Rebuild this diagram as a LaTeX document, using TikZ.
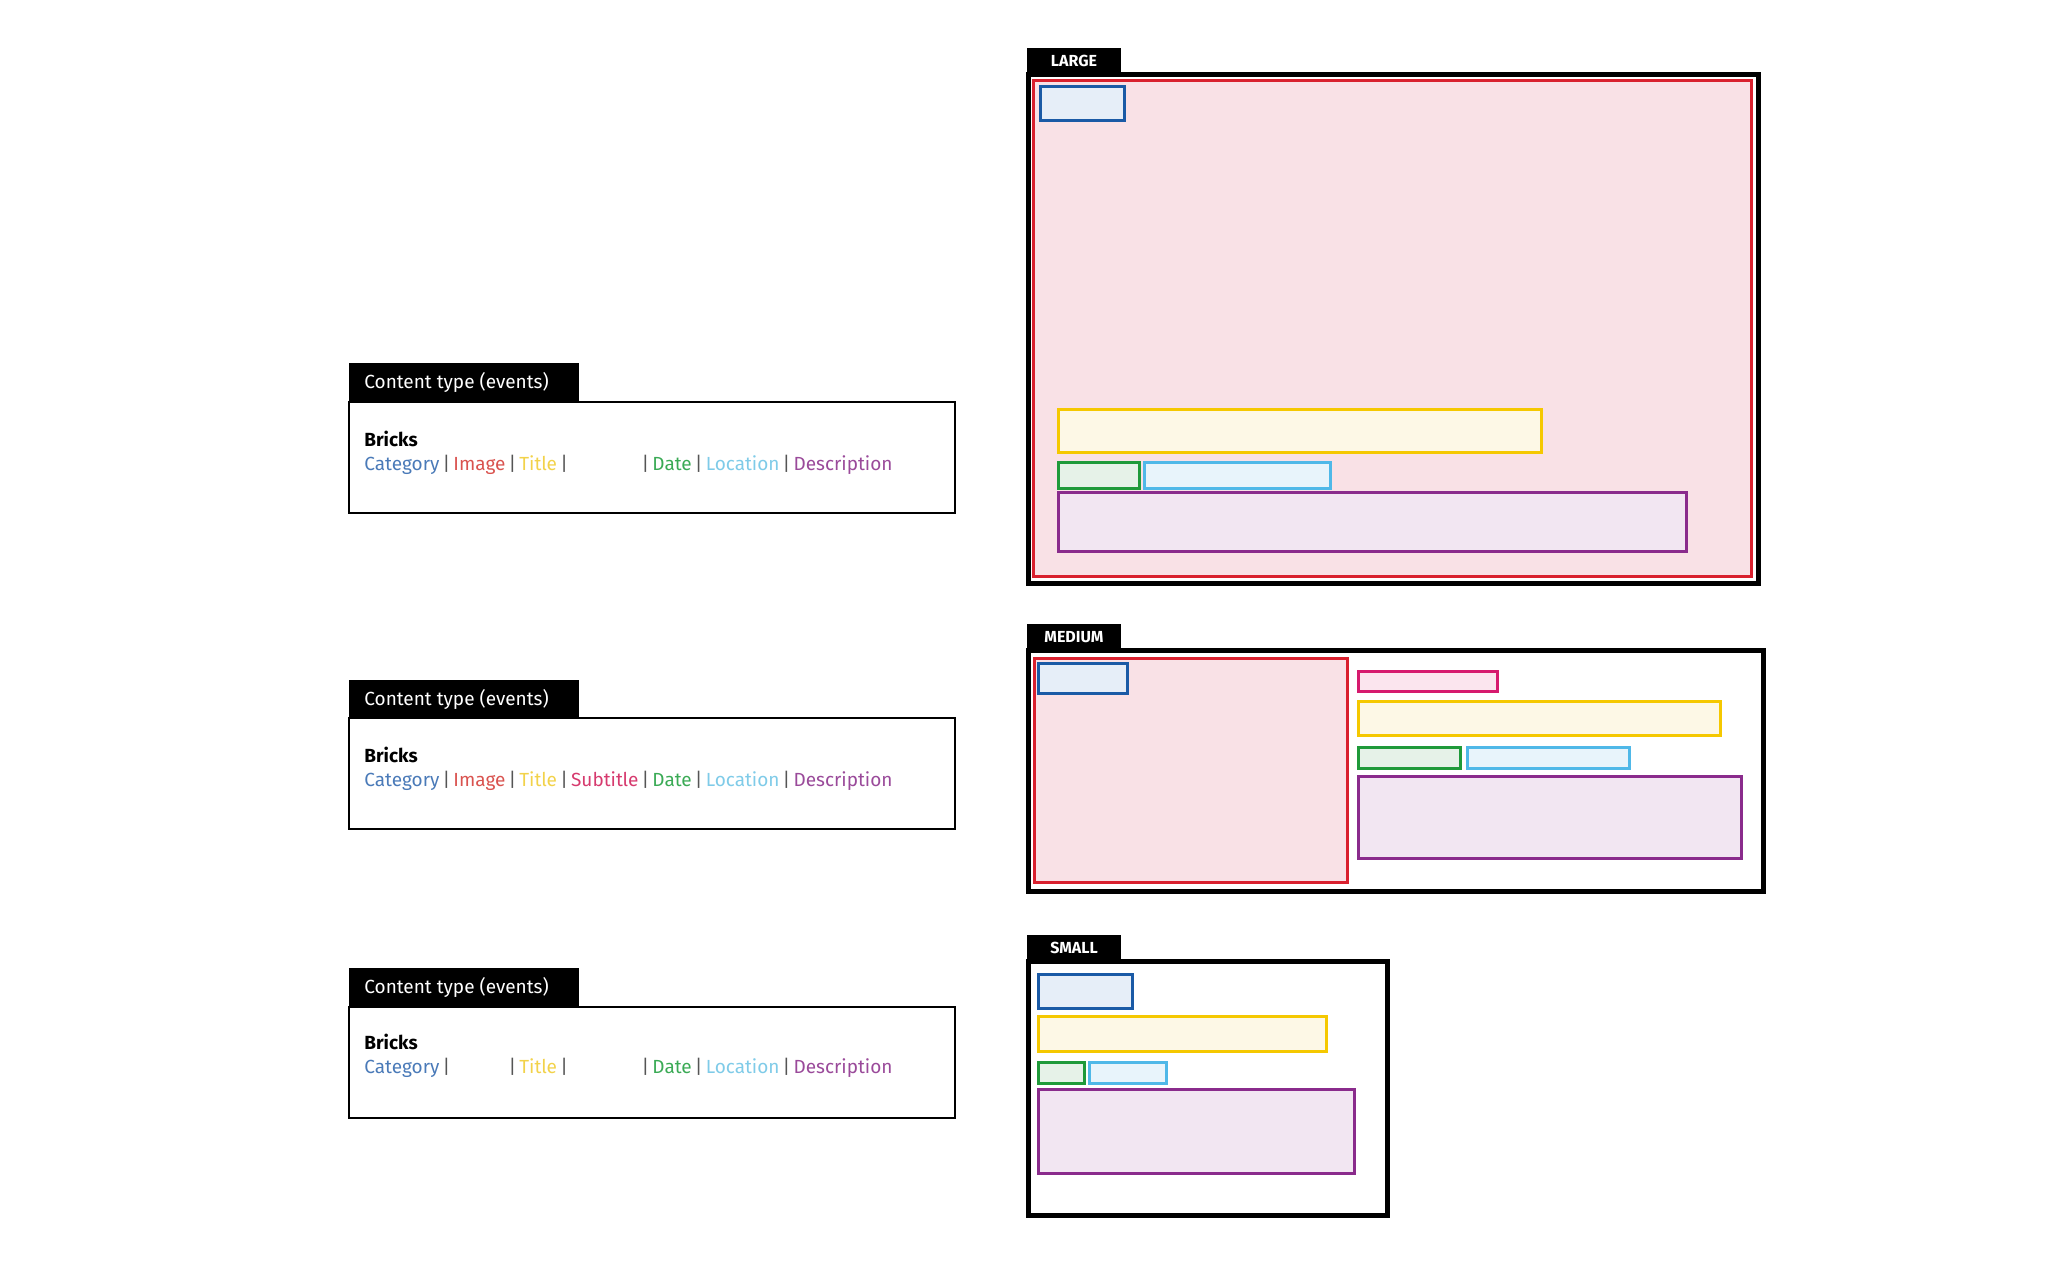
\documentclass[tikz,border=0pt]{standalone}
\usepackage{fontspec}
\setmainfont{Fira Sans}
\definecolor{cB}{HTML}{1A5AA6}\definecolor{fB}{HTML}{E6EEF8}
\definecolor{cR}{HTML}{D9202E}\definecolor{fR}{HTML}{F9E1E6}
\definecolor{cY}{HTML}{F5C800}\definecolor{fY}{HTML}{FDF8E6}
\definecolor{cG}{HTML}{1F9A3A}\definecolor{fG}{HTML}{E6F2E8}
\definecolor{cC}{HTML}{4FB8E8}\definecolor{fC}{HTML}{E8F4FB}
\definecolor{cP}{HTML}{8A2B8C}\definecolor{fP}{HTML}{F2E6F2}
\definecolor{cK}{HTML}{D61A6E}\definecolor{fK}{HTML}{FBE5EE}
\definecolor{tCat}{HTML}{4A7AB8}\definecolor{tImg}{HTML}{D9534F}
\definecolor{tTit}{HTML}{F2D24A}\definecolor{tSub}{HTML}{D63A6E}
\definecolor{tDat}{HTML}{3AAA55}\definecolor{tLoc}{HTML}{7FCBE8}
\definecolor{tDes}{HTML}{9A4A9A}\definecolor{bar}{HTML}{555555}
\newcommand{\sepb}{\textcolor{bar}{\,|\,}}
\begin{document}
\begin{tikzpicture}[x=0.5pt,y=-0.5pt,
  brick/.style={line width=1.5pt},
  outer/.style={draw=black,line width=2.5pt},
  leftbox/.style={draw=black,line width=1.2pt},
  tab/.style={fill=black},
  tabtxt/.style={text=white,font=\fontsize{9.5}{11}\selectfont,anchor=west,inner sep=0pt},
  panetxt/.style={text=white,font=\bfseries\fontsize{8}{10}\selectfont,inner sep=0pt},
  btxt/.style={anchor=west,inner sep=0pt,font=\fontsize{9.5}{11}\selectfont}]
\useasboundingbox (0,0) rectangle (2048,1280);
% left boxes
\foreach \t/\b/\r/\l/\k in {363/402/439/465/1,680/718/755/781/2,968/1007/1042/1068/3}{
  \fill[tab] (349,\t) rectangle (579,\b);
  \node[tabtxt] (tab\k) at (364,{(\t+\b)/2}) {Content type (events)};
  \draw[leftbox] (349,\b) rectangle (955,\b+111);
  \node[btxt] (br\k) at (364,\r) {\bfseries Bricks};
}
\node[btxt] (l1) at (364,465) {\textcolor{tCat}{Category}\sepb\textcolor{tImg}{Image}\sepb\textcolor{tTit}{Title}\sepb\phantom{Subtitle}\sepb\textcolor{tDat}{Date}\sepb\textcolor{tLoc}{Location}\sepb\textcolor{tDes}{Description}};
\node[btxt] (l2) at (364,781) {\textcolor{tCat}{Category}\sepb\textcolor{tImg}{Image}\sepb\textcolor{tTit}{Title}\sepb\textcolor{tSub}{Subtitle}\sepb\textcolor{tDat}{Date}\sepb\textcolor{tLoc}{Location}\sepb\textcolor{tDes}{Description}};
\node[btxt] (l3) at (364,1068) {\textcolor{tCat}{Category}\sepb\phantom{Image}\sepb\textcolor{tTit}{Title}\sepb\phantom{Subtitle}\sepb\textcolor{tDat}{Date}\sepb\textcolor{tLoc}{Location}\sepb\textcolor{tDes}{Description}};
% LARGE
\fill[tab] (1027,48) rectangle (1121,74);
\node[panetxt] (tl) at (1074,61) {LARGE};
\draw[outer] (1028,74) rectangle (1758,583);
\draw[brick,draw=cR,fill=fR] (1033,80) rectangle (1751,576);
\draw[brick,draw=cB,fill=fB] (1040,86) rectangle (1124,120);
\draw[brick,draw=cY,fill=fY] (1058,409) rectangle (1541,452);
\draw[brick,draw=cG,fill=fG] (1058,462) rectangle (1139,488);
\draw[brick,draw=cC,fill=fC] (1144,462) rectangle (1330,488);
\draw[brick,draw=cP,fill=fP] (1058,492) rectangle (1686,551);
% MEDIUM
\fill[tab] (1027,624) rectangle (1121,650);
\node[panetxt] (tm) at (1074,637) {MEDIUM};
\draw[outer] (1028,650) rectangle (1763,891);
\draw[brick,draw=cR,fill=fR] (1034,658) rectangle (1347,882);
\draw[brick,draw=cB,fill=fB] (1038,663) rectangle (1127,693);
\draw[brick,draw=cK,fill=fK] (1358,671) rectangle (1497,691);
\draw[brick,draw=cY,fill=fY] (1358,701) rectangle (1720,735);
\draw[brick,draw=cG,fill=fG] (1358,747) rectangle (1460,768);
\draw[brick,draw=cC,fill=fC] (1467,747) rectangle (1629,768);
\draw[brick,draw=cP,fill=fP] (1358,776) rectangle (1741,858);
% SMALL
\fill[tab] (1027,935) rectangle (1121,961);
\node[panetxt] (ts) at (1074,948) {SMALL};
\draw[outer] (1028,961) rectangle (1387,1215);
\draw[brick,draw=cB,fill=fB] (1038,974) rectangle (1132,1008);
\draw[brick,draw=cY,fill=fY] (1038,1016) rectangle (1326,1051);
\draw[brick,draw=cG,fill=fG] (1038,1062) rectangle (1084,1083);
\draw[brick,draw=cC,fill=fC] (1089,1062) rectangle (1166,1083);
\draw[brick,draw=cP,fill=fP] (1038,1089) rectangle (1354,1173);
\end{tikzpicture}
\end{document}
